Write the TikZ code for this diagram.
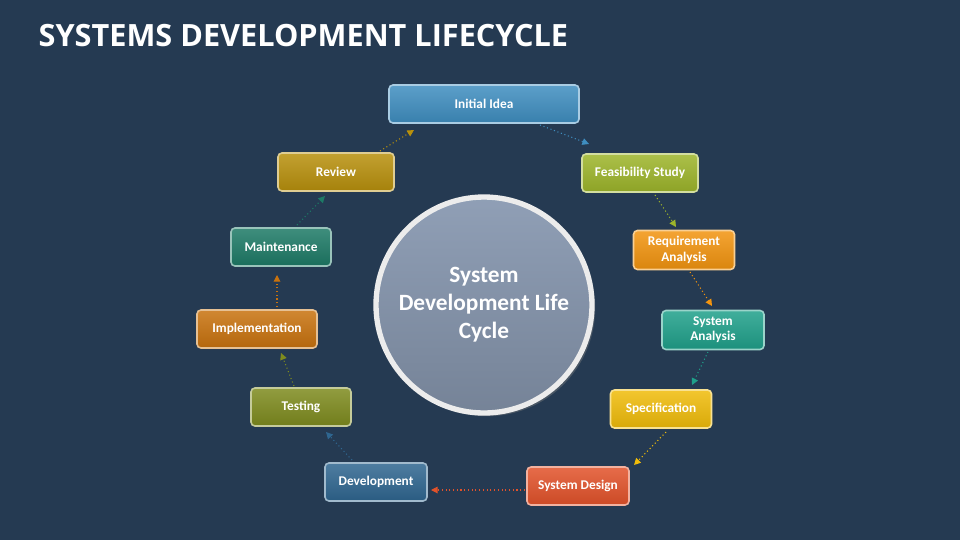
\documentclass[tikz,border=0pt]{standalone}
\usepackage{fontspec}
\setmainfont{Carlito}
\newfontfamily\titlefont{Open Sans}
\usetikzlibrary{arrows.meta,shadows}
\definecolor{bg}{HTML}{253A52}
\definecolor{cA}{HTML}{3F8EC0}
\definecolor{cB}{HTML}{9DB52A}
\definecolor{cC}{HTML}{F2940F}
\definecolor{cD}{HTML}{1FA08A}
\definecolor{cE}{HTML}{F0BC0A}
\definecolor{cF}{HTML}{E2522A}
\definecolor{cG}{HTML}{2F6690}
\definecolor{cH}{HTML}{7E8B1E}
\definecolor{cI}{HTML}{C8720E}
\definecolor{cJ}{HTML}{1D7A66}
\definecolor{cK}{HTML}{B8900C}
\definecolor{circ}{HTML}{8A9AB2}
\tikzset{
 box/.style={rounded corners=3pt, draw=#1!45!white, line width=1.2pt, top color=#1!85!white, bottom color=#1!90!black, text=white, font=\fontsize{10}{11.5}\selectfont\bfseries, align=center, minimum height=38pt*0.75, inner sep=1pt},
 link/.style={draw=#1, dotted, line width=0.8pt, -{Triangle[length=5pt,width=5pt,fill=#1]}}
}
\begin{document}
\begin{tikzpicture}[x=0.75pt,y=-0.75pt]
\fill[bg] (0,0) rectangle (960,540);
\node[anchor=west, text=white, font=\titlefont\fontsize{23}{26}\selectfont\bfseries] (title) at (34,36) {SYSTEMS DEVELOPMENT LIFECYCLE};
\node[circle, minimum size=216*0.75pt, draw=white!85!gray, line width=4pt, top color=circ!95!white, bottom color=circ!85!black, drop shadow={opacity=0.4}, text=white, font=\fontsize{17.5}{21}\selectfont\bfseries, align=center] (c) at (484,305) {System\\Development Life\\Cycle};
\node[box=cA, minimum width=190*0.75pt] (a) at (484,104) {Initial Idea};
\node[box=cB, minimum width=116*0.75pt] (b) at (640,173) {Feasibility Study};
\node[box=cC, minimum width=101*0.75pt, minimum height=39*0.75pt] (r) at (684,250) {Requirement\\Analysis};
\node[box=cD, minimum width=102*0.75pt, minimum height=39*0.75pt] (s) at (713,330) {System\\Analysis};
\node[box=cE, minimum width=101*0.75pt] (e) at (661,409) {Specification};
\node[box=cF, minimum width=102*0.75pt] (f) at (578,486) {System Design};
\node[box=cG, minimum width=102*0.75pt] (g) at (376,482) {Development};
\node[box=cH, minimum width=100*0.75pt] (h) at (301,407) {Testing};
\node[box=cI, minimum width=120*0.75pt] (i) at (257,329) {Implementation};
\node[box=cJ, minimum width=100*0.75pt] (j) at (281,247) {Maintenance};
\node[box=cK, minimum width=116*0.75pt] (k) at (336,172) {Review};
\coordinate (a1) at (540,125); \coordinate (b0) at (589,144);
\coordinate (b1) at (655,195); \coordinate (r0) at (676,227);
\coordinate (r1) at (690,272); \coordinate (s0) at (712,306);
\coordinate (s1) at (708,352); \coordinate (e0) at (692,385);
\coordinate (e1) at (666,432); \coordinate (f0) at (634,465);
\coordinate (f1) at (525,490); \coordinate (g0) at (431,490);
\coordinate (g1) at (352,460); \coordinate (h0) at (326,432);
\coordinate (h1) at (294,386); \coordinate (i0) at (281,353);
\coordinate (i1) at (277,307); \coordinate (j0) at (277,275);
\coordinate (j1) at (297,225); \coordinate (k0) at (325,196);
\coordinate (k1) at (380,151); \coordinate (a0) at (414,130);
\draw[link=cA] (a1) -- (b0);
\draw[link=cB] (b1) -- (r0);
\draw[link=cC] (r1) -- (s0);
\draw[link=cD] (s1) -- (e0);
\draw[link=cE] (e1) -- (f0);
\draw[link=cF] (f1) -- (g0);
\draw[link=cG] (g1) -- (h0);
\draw[link=cH] (h1) -- (i0);
\draw[link=cI] (i1) -- (j0);
\draw[link=cJ] (j1) -- (k0);
\draw[link=cK] (k1) -- (a0);
\end{tikzpicture}
\end{document}
